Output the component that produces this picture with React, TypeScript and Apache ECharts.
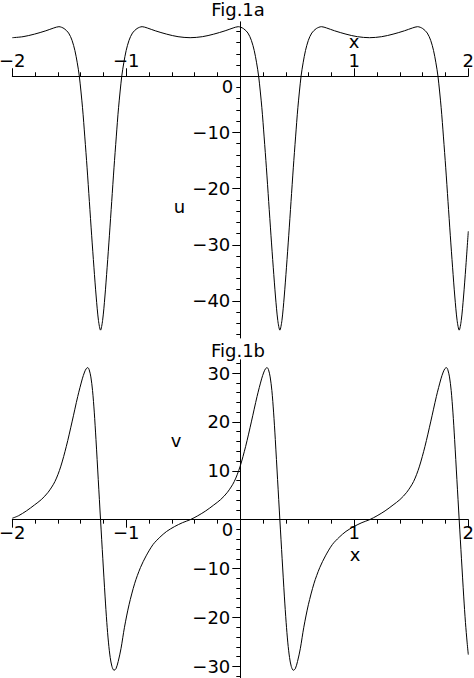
import React, { useEffect, useRef } from 'react';
import * as echarts from 'echarts';

// ---- data ----
const xU = [
  -2.0, -1.906, -1.806, -1.706, -1.636, -1.591, -1.546, -1.506, -1.476, -1.451, -1.431, -1.412,
  -1.384, -1.364, -1.344, -1.324, -1.304, -1.284, -1.264, -1.244, -1.226, -1.208, -1.188, -1.168,
  -1.148, -1.128, -1.108, -1.088, -1.068, -1.04, -1.021, -1.001, -0.976, -0.946, -0.906, -0.861,
  -0.816, -0.746, -0.646, -0.546, -0.44, -0.333, -0.233, -0.133, -0.063, -0.018, 0.027, 0.067,
  0.097, 0.122, 0.142, 0.161, 0.189, 0.209, 0.229, 0.249, 0.269, 0.289, 0.309, 0.329, 0.347,
  0.365, 0.385, 0.405, 0.425, 0.445, 0.465, 0.485, 0.505, 0.533, 0.552, 0.572, 0.597, 0.627,
  0.667, 0.712, 0.757, 0.827, 0.927, 1.027, 1.134, 1.24, 1.34, 1.44, 1.51, 1.555, 1.6, 1.64,
  1.67, 1.695, 1.715, 1.734, 1.762, 1.782, 1.802, 1.822, 1.842, 1.862, 1.882, 1.902, 1.92,
  1.938, 1.958, 1.978, 2.0,
];
const uVals = [
  6.87, 7.05, 7.5, 8.1, 8.6, 8.83, 8.5, 7.7, 6.4, 4.6, 2.5, 0,
  -5.6, -10.8, -16.3, -22.3, -28.3, -34.0, -39.3, -43.5, -45.2, -43.5, -39.3, -34.0,
  -28.3, -22.3, -16.3, -10.8, -5.6, 0, 2.5, 4.6, 6.4, 7.7, 8.5, 8.83,
  8.6, 8.1, 7.5, 7.05, 6.87, 7.05, 7.5, 8.1, 8.6, 8.83, 8.5, 7.7,
  6.4, 4.6, 2.5, 0, -5.6, -10.8, -16.3, -22.3, -28.3, -34.0, -39.3, -43.5, -45.2,
  -43.5, -39.3, -34.0, -28.3, -22.3, -16.3, -10.8, -5.6, 0, 2.5, 4.6, 6.4, 7.7,
  8.5, 8.83, 8.6, 8.1, 7.5, 7.05, 6.87, 7.05, 7.5, 8.1, 8.6, 8.83, 8.5, 7.7,
  6.4, 4.6, 2.5, 0, -5.6, -10.8, -16.3, -22.3, -28.3, -34.0, -39.3, -43.5, -45.2,
  -43.5, -39.3, -34.0, -27.6,
];

const xV = [
  -2.0, -1.946, -1.876, -1.806, -1.746, -1.686, -1.626, -1.576, -1.526, -1.476, -1.426, -1.386,
  -1.366, -1.351, -1.338, -1.326, -1.311, -1.296, -1.281, -1.266, -1.246, -1.226,
  -1.206, -1.186, -1.171, -1.156, -1.141, -1.126, -1.108, -1.091, -1.071, -1.046, -1.016, -0.976,
  -0.926, -0.876, -0.826, -0.766, -0.706, -0.646, -0.576, -0.506, -0.439,
  -0.373, -0.303, -0.233, -0.173, -0.113, -0.053, -0.003, 0.047, 0.097, 0.147, 0.187,
  0.207, 0.222, 0.235, 0.247, 0.262, 0.277, 0.292, 0.307, 0.327, 0.347,
  0.367, 0.387, 0.402, 0.417, 0.432, 0.447, 0.465, 0.482, 0.502, 0.527, 0.557, 0.597,
  0.647, 0.697, 0.747, 0.807, 0.867, 0.927, 0.997, 1.067, 1.134,
  1.2, 1.27, 1.34, 1.4, 1.46, 1.52, 1.57, 1.62, 1.67, 1.72, 1.76,
  1.78, 1.795, 1.808, 1.82, 1.835, 1.85, 1.865, 1.88, 1.9, 1.92,
  1.94, 1.96, 1.975, 1.99, 2.0,
];
const vVals = [
  0.3, 0.8, 1.8, 3.0, 4.1, 5.6, 7.8, 10.8, 15.0, 20.0, 25.2, 28.8,
  30.2, 30.9, 31.1, 30.7, 29.2, 26.4, 22.0, 16.4, 8.2, 0,
  -8.0, -15.8, -21.0, -25.2, -28.2, -30.0, -30.8, -30.5, -29.0, -26.3, -22.0, -17.4,
  -13.0, -9.8, -7.4, -5.1, -3.6, -2.4, -1.4, -0.6, 0,
  0.8, 1.8, 3.0, 4.1, 5.6, 7.8, 10.8, 15.0, 20.0, 25.2, 28.8,
  30.2, 30.9, 31.1, 30.7, 29.2, 26.4, 22.0, 16.4, 8.2, 0,
  -8.0, -15.8, -21.0, -25.2, -28.2, -30.0, -30.8, -30.5, -29.0, -26.3, -22.0, -17.4,
  -13.0, -9.8, -7.4, -5.1, -3.6, -2.4, -1.4, -0.6, 0,
  0.8, 1.8, 3.0, 4.1, 5.6, 7.8, 10.8, 15.0, 20.0, 25.2, 28.8,
  30.2, 30.9, 31.1, 30.7, 29.2, 26.4, 22.0, 16.4, 8.2, 0,
  -8.0, -15.8, -21.0, -25.2, -27.6,
];

const xMajor = [-2, -1, 1, 2];
const xMinor = [-1.8, -1.6, -1.4, -1.2, -0.8, -0.6, -0.4, -0.2, 0.2, 0.4, 0.6, 0.8, 1.2, 1.4, 1.6, 1.8];
const uMajor = [-40, -30, -20, -10];
const uMinor = [-46, -44, -42, -38, -36, -34, -32, -28, -26, -24, -22, -18, -16, -14, -12, -8, -6, -4, -2, 2, 4, 6, 8];
const vMajor = [-30, -20, -10, 10, 20, 30];
const vMinor = [-32, -28, -26, -24, -22, -18, -16, -14, -12, -8, -6, -4, -2, 2, 4, 6, 8, 12, 14, 16, 18, 22, 24, 26, 28, 32];
const xRange = [-2, 2];
const uRange = [-46.6, 9.7];
const vRange = [-32.4, 32.7];

const FONT = '"DejaVu Sans", "Liberation Sans", Arial, sans-serif';
const FS = 18;
const LH = 15;
const BLACK = '#000';

// grid boxes (layout)
const G0 = { left: 12.3, top: 21.8, width: 456, height: 316.2 };
const G1 = { left: 12.3, top: 359.8, width: 456, height: 318.3 };

const fmt = (v: number) => (v < 0 ? '\u2212' + String(Math.abs(v)) : String(v));

const zeroFromTop = (g: any, r: number[]) => (g.height * r[1]) / (r[1] - r[0]);
const zeroFromLeft = (g: any, r: number[]) => (g.width * (0 - r[0])) / (r[1] - r[0]);

function xAxes(grid: number, pos: 'top' | 'bottom', offset: number, margin: number) {
  return [
    {
      gridIndex: grid, type: 'value', min: xRange[0], max: xRange[1], position: pos, offset,
      axisLine: { show: true, onZero: false, lineStyle: { color: BLACK, width: 1 } },
      axisTick: { show: true, customValues: xMajor, length: 8, lineStyle: { color: BLACK } },
      axisLabel: {
        show: true, customValues: xMajor, formatter: fmt, margin, color: BLACK,
        fontSize: FS, fontFamily: FONT, lineHeight: LH,
      },
      splitLine: { show: false },
    },
    {
      gridIndex: grid, type: 'value', min: xRange[0], max: xRange[1], position: pos, offset,
      axisLine: { show: false, onZero: false },
      axisTick: { show: true, customValues: xMinor, length: 4, lineStyle: { color: BLACK } },
      axisLabel: { show: false },
      splitLine: { show: false },
    },
  ];
}

function yAxes(grid: number, range: number[], major: number[], minor: number[], offset: number) {
  return [
    {
      gridIndex: grid, type: 'value', min: range[0], max: range[1], position: 'left', offset,
      axisLine: { show: true, onZero: false, lineStyle: { color: BLACK, width: 1 } },
      axisTick: { show: true, customValues: major, length: 8, lineStyle: { color: BLACK } },
      axisLabel: { show: true, customValues: major, formatter: fmt, margin: 10, color: BLACK, fontSize: FS, fontFamily: FONT },
      splitLine: { show: false },
    },
    {
      gridIndex: grid, type: 'value', min: range[0], max: range[1], position: 'left', offset,
      axisLine: { show: false, onZero: false },
      axisTick: { show: true, customValues: minor, length: 4, lineStyle: { color: BLACK } },
      axisLabel: {
        show: true, customValues: [0], margin: 7,
        formatter: () => '{z|0}',
        color: BLACK, fontSize: FS, fontFamily: FONT,
        rich: { z: { padding: [20, 0, 0, 0], color: BLACK, fontSize: FS, fontFamily: FONT } },
      },
      splitLine: { show: false },
    },
  ];
}

function txt(text: string, x: number, y: number) {
  return {
    type: 'text', x, y,
    style: {
      text, fill: BLACK, fontSize: FS, fontFamily: FONT, lineHeight: LH,
      align: 'center', verticalAlign: 'middle',
    },
  };
}

export default function App() {
  const ref = useRef<HTMLDivElement>(null);
  useEffect(() => {
    if (!ref.current) return;
    const chart = echarts.init(ref.current, undefined, { renderer: 'svg' });
    const offX0 = -zeroFromTop(G0, uRange);
    const offX1 = -(G1.height - zeroFromTop(G1, vRange));
    const offY0 = -zeroFromLeft(G0, xRange);
    const offY1 = -zeroFromLeft(G1, xRange);
    const option: any = {
      animation: false,
      backgroundColor: '#fff',
      grid: [
        { ...G0, outerBoundsMode: 'none', containLabel: false },
        { ...G1, outerBoundsMode: 'none', containLabel: false },
      ],
      xAxis: [...xAxes(0, 'top', offX0, 8), ...xAxes(1, 'bottom', offX1, 5)],
      yAxis: [...yAxes(0, uRange, uMajor, uMinor, offY0), ...yAxes(1, vRange, vMajor, vMinor, offY1)],
      series: [
        {
          type: 'line', xAxisIndex: 0, yAxisIndex: 0,
          data: xU.map((x, i) => [x, uVals[i]]),
          showSymbol: false, smooth: 0.3,
          lineStyle: { color: BLACK, width: 1 }, itemStyle: { color: BLACK },
        },
        {
          type: 'line', xAxisIndex: 2, yAxisIndex: 2,
          data: xV.map((x, i) => [x, vVals[i]]),
          showSymbol: false, smooth: 0.3,
          lineStyle: { color: BLACK, width: 1 }, itemStyle: { color: BLACK },
        },
      ],
      graphic: [
        txt('Fig.1a', 238, 9),
        txt('Fig.1b', 238, 350),
        txt('x', 354, 41),
        txt('u', 179.5, 206),
        txt('v', 176, 440),
        txt('x', 355, 554),
      ],
    };
    chart.setOption(option);
    return () => chart.dispose();
  }, []);
  return (
    <div
      ref={ref}
      style={{ position: 'fixed', left: 0, top: 0, width: 474, height: 678, background: '#fff' }}
    />
  );
}
